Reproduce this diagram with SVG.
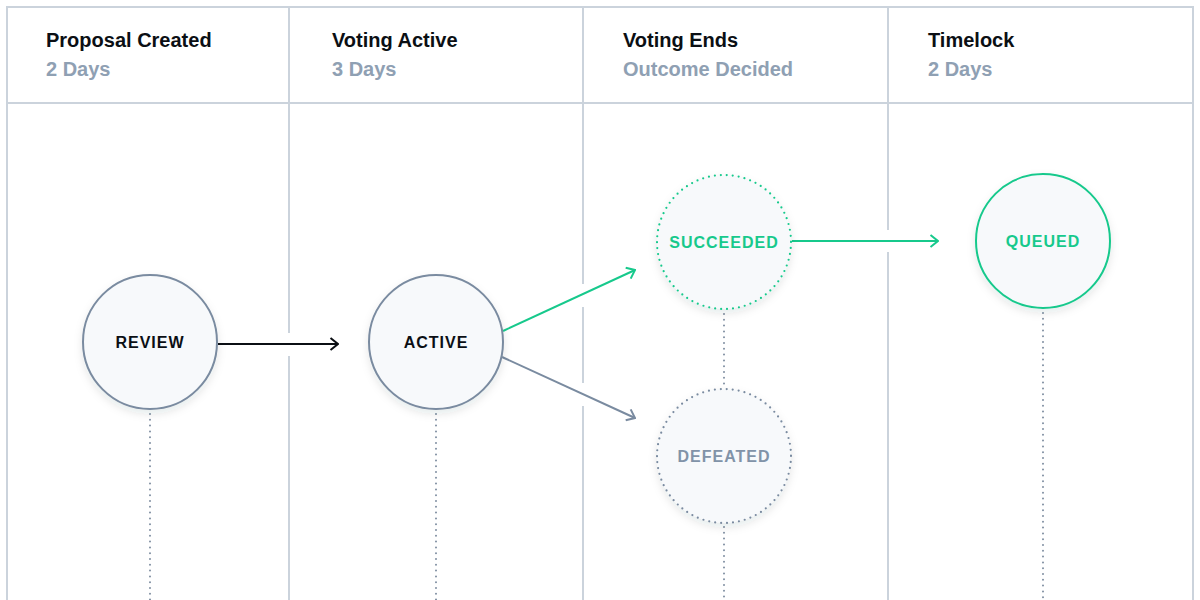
<svg xmlns="http://www.w3.org/2000/svg" width="1200" height="600" viewBox="0 0 1200 600">
<style>
.grid{stroke:#CBD3DC;stroke-width:2;fill:none}
.h1{font-family:"Liberation Sans",Arial,sans-serif;font-weight:bold;font-size:20px;fill:#0B0F14}
.h2{font-family:"Liberation Sans",Arial,sans-serif;font-weight:bold;font-size:20px;fill:#8FA0B3}
.lbl{font-family:"Liberation Sans",Arial,sans-serif;font-weight:bold;font-size:16px;letter-spacing:1px;text-anchor:middle}
.node{fill:#F7F9FB;stroke-width:2}
.gray{stroke:#7A8BA0}
.green{stroke:#17C98C}
.dotc{stroke-dasharray:0 6;stroke-linecap:round;stroke-width:2.2}
.vdot{stroke:#7F8EA1;stroke-width:2;stroke-dasharray:0 5.8;stroke-linecap:round;fill:none}
.conn{fill:none;stroke-width:2}
</style>
<defs>
<filter id="sh" x="-30%" y="-30%" width="160%" height="170%">
<feDropShadow dx="0" dy="4" stdDeviation="4" flood-color="#1F2D3D" flood-opacity="0.10"/>
</filter>
<marker id="aBlack" viewBox="0 0 10 14" refX="9" refY="7" markerWidth="10" markerHeight="14" markerUnits="userSpaceOnUse" orient="auto">
<path d="M1.5 1 L9 7 L1.5 13" fill="none" stroke="#0B0F14" stroke-width="2"/>
</marker>
<marker id="aGreen" viewBox="0 0 10 14" refX="9" refY="7" markerWidth="10" markerHeight="14" markerUnits="userSpaceOnUse" orient="auto">
<path d="M1.5 1 L9 7 L1.5 13" fill="none" stroke="#17C98C" stroke-width="2"/>
</marker>
<marker id="aGray" viewBox="0 0 10 14" refX="9" refY="7" markerWidth="10" markerHeight="14" markerUnits="userSpaceOnUse" orient="auto">
<path d="M1.5 1 L9 7 L1.5 13" fill="none" stroke="#7A8BA0" stroke-width="2"/>
</marker>
</defs>
<rect width="1200" height="600" fill="#FFFFFF"/>
<g id="grid">
<path class="grid" d="M7 602 V7 H1193 V602"/>
<line class="grid" x1="7" y1="103" x2="1193" y2="103"/>
<path class="grid" d="M289 7 V333 M289 356 V602"/>
<path class="grid" d="M583 7 V284 M583 307 V383 M583 406 V602"/>
<path class="grid" d="M888 7 V230 M888 252 V602"/>
</g>
<g id="headers">
<text class="h1" x="46" y="47">Proposal Created</text>
<text class="h2" x="46" y="76">2 Days</text>
<text class="h1" x="332" y="47">Voting Active</text>
<text class="h2" x="332" y="76">3 Days</text>
<text class="h1" x="623" y="47">Voting Ends</text>
<text class="h2" x="623" y="76">Outcome Decided</text>
<text class="h1" x="928" y="47">Timelock</text>
<text class="h2" x="928" y="76">2 Days</text>
</g>
<g id="connectors">
<line class="vdot" x1="150" y1="414" x2="150" y2="600"/>
<line class="vdot" x1="436" y1="414" x2="436" y2="600"/>
<line class="vdot" x1="724" y1="314" x2="724" y2="386"/>
<line class="vdot" x1="724" y1="527" x2="724" y2="600"/>
<line class="vdot" x1="1043" y1="313" x2="1043" y2="600"/>
<line class="conn" stroke="#0B0F14" x1="218" y1="344" x2="338" y2="344" marker-end="url(#aBlack)"/>
<line class="conn" stroke="#17C98C" x1="503" y1="331" x2="635" y2="270" marker-end="url(#aGreen)"/>
<line class="conn" stroke="#7A8BA0" x1="502" y1="357" x2="635" y2="418" marker-end="url(#aGray)"/>
<line class="conn" stroke="#17C98C" x1="792" y1="241" x2="938" y2="241" marker-end="url(#aGreen)"/>
</g>
<g id="review">
<circle class="node gray" cx="150" cy="342" r="67" filter="url(#sh)"/>
<text class="lbl" x="150" y="348" fill="#0B0F14">REVIEW</text>
</g>
<g id="active">
<circle class="node gray" cx="436" cy="342" r="67" filter="url(#sh)"/>
<text class="lbl" x="436" y="348" fill="#0B0F14">ACTIVE</text>
</g>
<g id="succeeded">
<circle class="node green dotc" cx="724" cy="242" r="67" filter="url(#sh)"/>
<text class="lbl" x="724" y="248" fill="#17C98C">SUCCEEDED</text>
</g>
<g id="defeated">
<circle class="node gray dotc" cx="724" cy="456" r="67" filter="url(#sh)"/>
<text class="lbl" x="724" y="462" fill="#8193A8">DEFEATED</text>
</g>
<g id="queued">
<circle class="node green" cx="1043" cy="241" r="67" filter="url(#sh)"/>
<text class="lbl" x="1043" y="247" fill="#17C98C">QUEUED</text>
</g>
</svg>
